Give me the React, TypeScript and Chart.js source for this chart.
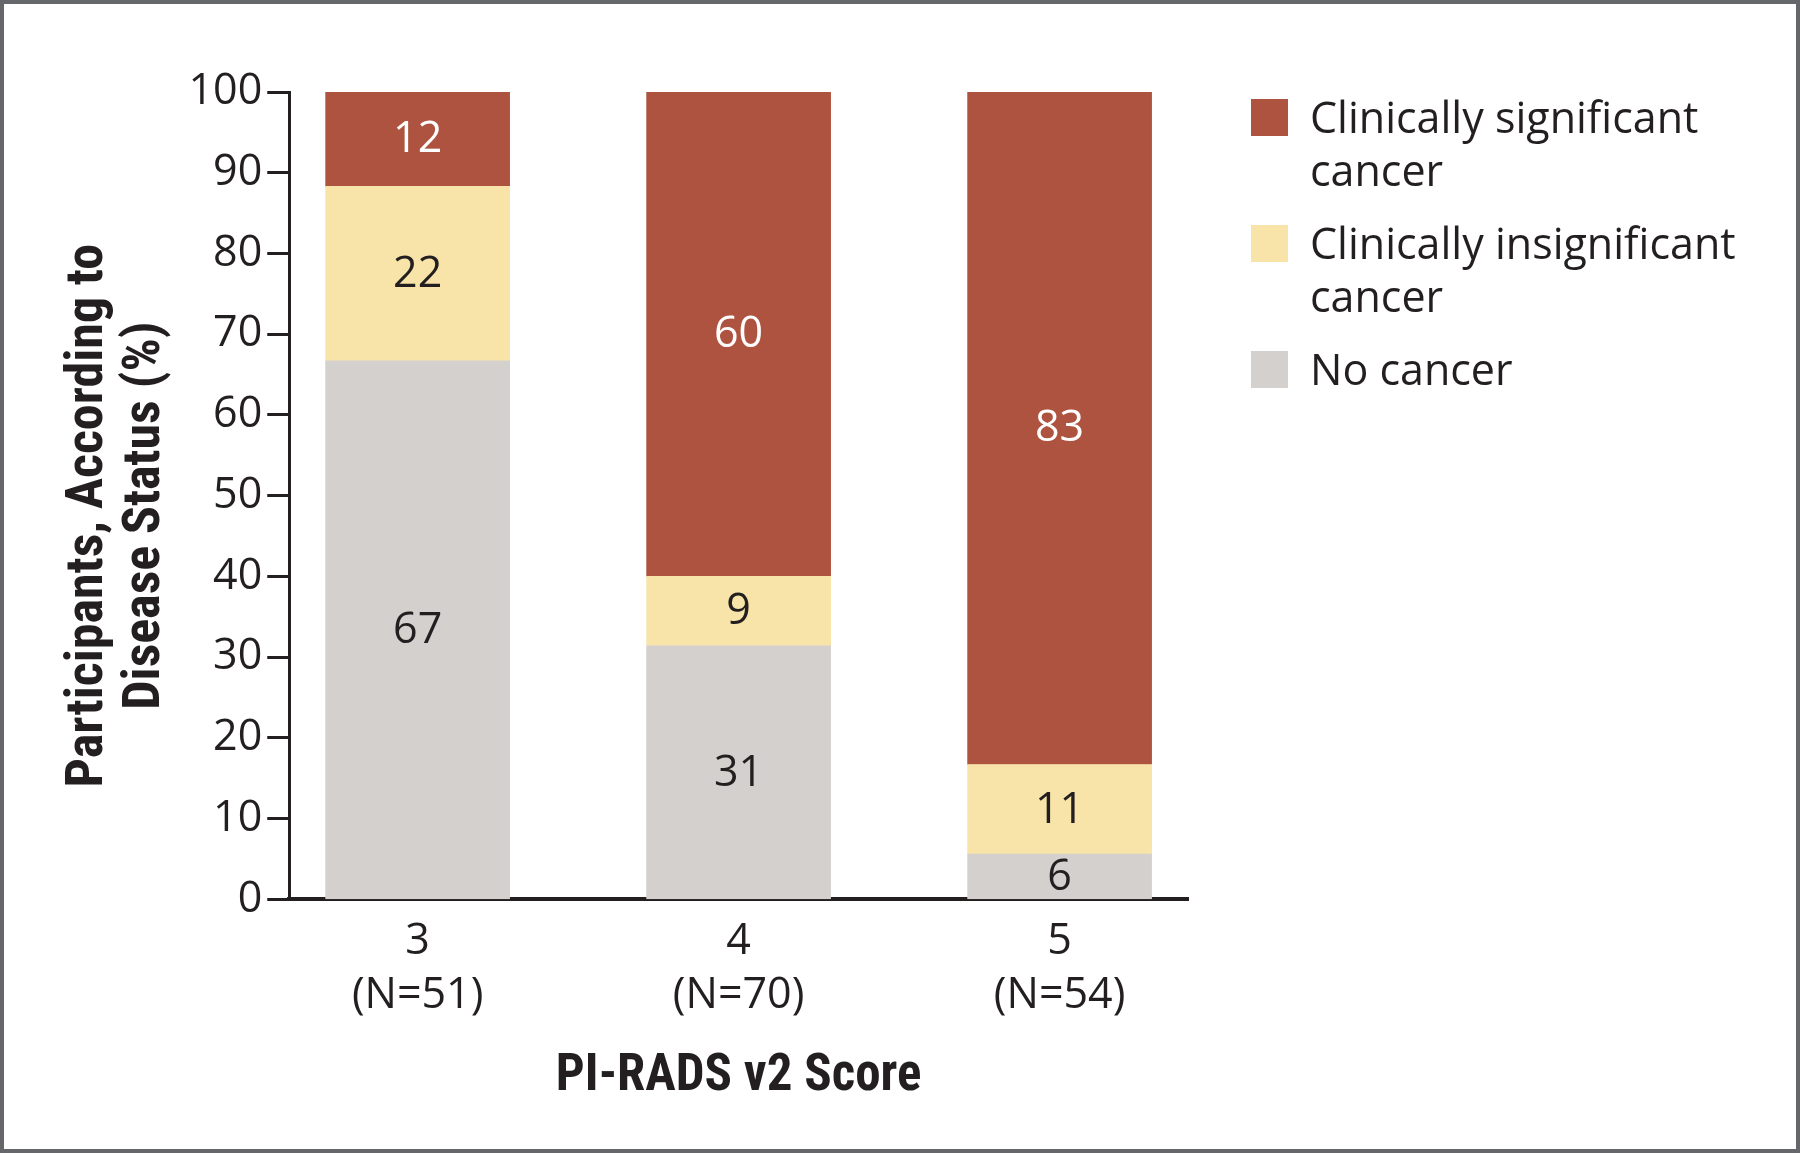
import React, { useEffect, useRef } from "react";
import { Chart, registerables } from "chart.js";

Chart.register(...registerables);

// PI-RADS v2 score categories and number of participants in each
const scores = [3, 4, 5];
const participants = [51, 70, 54];

// percentage of participants per disease status (bottom to top of each bar)
const noCancer = [66.7, 31.4, 5.6];
const insignificantCancer = [21.6, 8.6, 11.1];
const significantCancer = [11.7, 60.0, 83.3];

const seriesNames = ["No cancer", "Clinically insignificant cancer", "Clinically significant cancer"];
const legendLines = [["No cancer"], ["Clinically insignificant", "cancer"], ["Clinically significant", "cancer"]];

const yTicks = [0, 10, 20, 30, 40, 50, 60, 70, 80, 90, 100];
const xTitle = "PI-RADS v2 Score";
const yTitle = ["Participants, According to", "Disease Status (%)"];

const INK = "#231f20";
const RED = "#ad533f";
const YELLOW = "#f8e4a9";
const GRAY = "#d4d0cd";
const BODY_FONT = "'Open Sans', 'Noto Sans', sans-serif";
const TITLE_FONT = "'Liberation Sans Narrow', 'Roboto Condensed', Roboto, sans-serif";

const segmentLabels = {
    id: "segmentLabels",
    afterDatasetsDraw(chart: any) {
        const { ctx } = chart;
        ctx.save();
        ctx.font = `43px ${BODY_FONT}`;
        ctx.textAlign = "center";
        ctx.textBaseline = "middle";
        chart.data.datasets.forEach((ds: any, i: number) => {
            const meta = chart.getDatasetMeta(i);
            meta.data.forEach((bar: any, j: number) => {
                const { x, y, base } = bar.getProps(["x", "y", "base"], true);
                ctx.fillStyle = i === 2 ? "#ffffff" : INK;
                ctx.fillText(String(Math.round(ds.data[j].y)), x, (y + base) / 2 + 1);
            });
        });
        ctx.restore();
    }
};

// y title drawn a little below the middle of the axis, as in the original
const yAxisTitle = {
    id: "yAxisTitle",
    afterDraw(chart: any) {
        const { ctx, chartArea } = chart;
        const scale = chart.scales.y;
        const cy = (chartArea.top + chartArea.bottom) / 2 + 20;
        ctx.save();
        ctx.font = `bold 52px ${TITLE_FONT}`;
        ctx.fillStyle = INK;
        ctx.textAlign = "center";
        ctx.textBaseline = "middle";
        yTitle.forEach((line, k) => {
            ctx.save();
            ctx.translate(scale.left + 55 + k * 57, cy);
            ctx.rotate(-Math.PI / 2);
            ctx.fillText(line, 0, 0);
            ctx.restore();
        });
        ctx.restore();
    }
};

// legend on the right, top item = top segment
const sideLegend = {
    id: "sideLegend",
    afterDraw(chart: any) {
        const { ctx, chartArea } = chart;
        const left = chartArea.right + 63;
        let top = chartArea.top + 7;
        ctx.save();
        ctx.font = `43px ${BODY_FONT}`;
        ctx.textAlign = "left";
        ctx.textBaseline = "alphabetic";
        for (let i = chart.data.datasets.length - 1; i >= 0; i--) {
            ctx.fillStyle = chart.data.datasets[i].backgroundColor;
            ctx.fillRect(left, top, 37, 37);
            ctx.fillStyle = INK;
            legendLines[i].forEach((line, k) => ctx.fillText(line, left + 59, top + 34 + k * 53));
            top += legendLines[i].length * 53 + 20;
        }
        ctx.restore();
    }
};

const App = () => {
    const chartRef = useRef<HTMLCanvasElement | null>(null);
    const chartInstance = useRef<Chart | null>(null);

    useEffect(() => {
        document.body.style.margin = "0";
        if (!chartRef.current) return;
        const ctx = chartRef.current.getContext("2d");
        if (!ctx) return;

        if (chartInstance.current) chartInstance.current.destroy();

        const series = [noCancer, insignificantCancer, significantCancer];
        const colors = [GRAY, YELLOW, RED];

        chartInstance.current = new Chart(ctx, {
            type: "bar",
            data: {
                datasets: series.map((values, i) => ({
                    label: seriesNames[i],
                    data: values.map((v, j) => ({ x: scores[j], y: v })),
                    backgroundColor: colors[i],
                    borderWidth: 0,
                    barThickness: 184
                }))
            },
            options: {
                responsive: false,
                animation: false,
                devicePixelRatio: 1,
                layout: { padding: { top: 92, right: 612, bottom: 35, left: 34 } },
                plugins: { legend: { display: false }, tooltip: { enabled: false } },
                scales: {
                    x: {
                        type: "linear",
                        stacked: true,
                        offset: false,
                        min: 2.6,
                        max: 5.4,
                        afterBuildTicks: (scale: any) => {
                            scale.ticks = scores.map((v) => ({ value: v }));
                        },
                        ticks: {
                            callback: (value: any) => {
                                const idx = scores.indexOf(Number(value));
                                return idx < 0 ? "" : [String(value), `(N=${participants[idx]})`];
                            },
                            font: { family: BODY_FONT, size: 43, lineHeight: 1.25 },
                            color: INK,
                            padding: 16,
                            maxRotation: 0,
                            autoSkip: false
                        },
                        grid: { display: false, drawTicks: false },
                        border: { display: true, color: INK, width: 4 },
                        title: {
                            display: true,
                            text: xTitle,
                            color: INK,
                            font: { family: TITLE_FONT, size: 51, weight: "bold", lineHeight: 1.2 },
                            padding: { top: 8, bottom: 10 }
                        }
                    },
                    y: {
                        stacked: true,
                        min: 0,
                        max: 100,
                        afterBuildTicks: (scale: any) => {
                            scale.ticks = yTicks.map((v) => ({ value: v }));
                        },
                        ticks: {
                            font: { family: BODY_FONT, size: 43 },
                            color: INK,
                            padding: 5
                        },
                        grid: {
                            drawOnChartArea: false,
                            tickLength: 22,
                            tickWidth: 3,
                            tickColor: INK
                        },
                        border: { display: true, color: INK, width: 3 },
                        // space for the title, which the yAxisTitle plugin draws
                        title: {
                            display: true,
                            text: yTitle,
                            color: "rgba(0,0,0,0)",
                            font: { family: TITLE_FONT, size: 52, weight: "bold", lineHeight: 1.12 },
                            padding: { top: 28, bottom: 5 }
                        }
                    }
                }
            },
            plugins: [segmentLabels, yAxisTitle, sideLegend]
        });

        return () => {
            if (chartInstance.current) {
                chartInstance.current.destroy();
                chartInstance.current = null;
            }
        };
    }, []);

    return (
        <div style={{ position: "relative", width: 1800, height: 1153, background: "#ffffff" }}>
            <canvas ref={chartRef} width={1800} height={1153} />
            <div
                style={{
                    position: "absolute",
                    inset: 0,
                    border: "4px solid #66676b",
                    boxSizing: "border-box",
                    pointerEvents: "none"
                }}
            />
        </div>
    );
};

export default App;
